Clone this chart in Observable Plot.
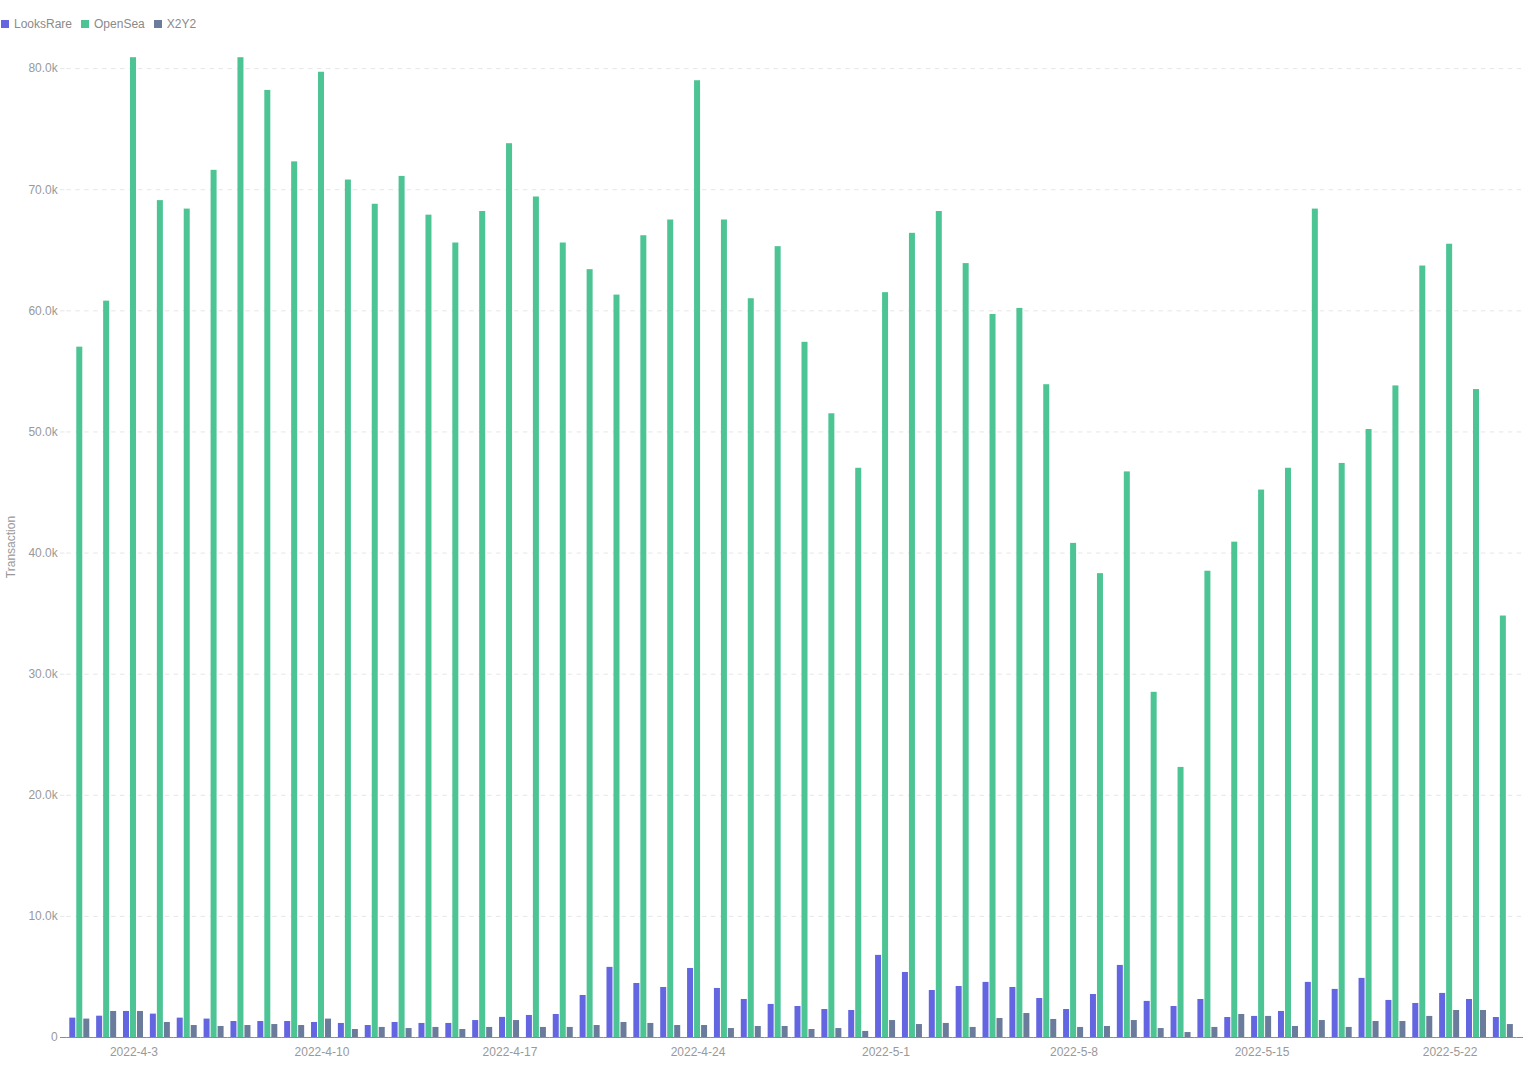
<!DOCTYPE html>
<html>
<head>
<meta charset="utf-8">
<script src="https://cdn.jsdelivr.net/npm/d3@7"></script>
<script src="https://cdn.jsdelivr.net/npm/@observablehq/plot@0.6"></script>
<style>
  html, body { margin: 0; padding: 0; background: #fff; }
  body { font-family: "Liberation Sans", Arial, sans-serif; width: 1536px; }
  #legend { height: 48px; display: flex; align-items: center; font-size: 12px; color: #8a8a8a; padding-left: 1px; }
  .item { display: flex; align-items: center; margin-right: 9px; }
  .sw { width: 8px; height: 8px; margin-right: 5px; }
  #chart svg { display: block; }
</style>
</head>
<body>
<div id="legend"></div>
<div id="chart"></div>
<script>
// ---- data ----
const dates = [
  "2022-4-1","2022-4-2","2022-4-3","2022-4-4","2022-4-5","2022-4-6","2022-4-7","2022-4-8","2022-4-9","2022-4-10",
  "2022-4-11","2022-4-12","2022-4-13","2022-4-14","2022-4-15","2022-4-16","2022-4-17","2022-4-18","2022-4-19","2022-4-20",
  "2022-4-21","2022-4-22","2022-4-23","2022-4-24","2022-4-25","2022-4-26","2022-4-27","2022-4-28","2022-4-29","2022-4-30",
  "2022-5-1","2022-5-2","2022-5-3","2022-5-4","2022-5-5","2022-5-6","2022-5-7","2022-5-8","2022-5-9","2022-5-10",
  "2022-5-11","2022-5-12","2022-5-13","2022-5-14","2022-5-15","2022-5-16","2022-5-17","2022-5-18","2022-5-19","2022-5-20",
  "2022-5-21","2022-5-22","2022-5-23","2022-5-24"
];
const looksRare = [
  1600,1760,2150,1930,1600,1520,1320,1320,1320,1240,
  1160,990,1240,1160,1160,1400,1660,1820,1900,3470,
  5790,4460,4130,5700,4050,3140,2730,2560,2310,2230,
  6780,5370,3880,4210,4550,4130,3220,2310,3550,5950,
  2980,2560,3140,1650,1740,2150,4550,3970,4880,3060,
  2810,3640,3140,1650
];
const openSea = [
  57000,60800,80900,69100,68400,71600,80900,78200,72300,79700,
  70800,68800,71100,67900,65600,68200,73800,69400,65600,63400,
  61300,66200,67500,79000,67500,61000,65300,57400,51500,47000,
  61500,66400,68200,63900,59700,60200,53900,40800,38300,46700,
  28500,22300,38500,40900,45200,47000,68400,47400,50200,53800,
  63700,65500,53500,34800
];
const x2y2 = [
  1520,2150,2150,1240,990,910,990,1070,990,1520,
  660,830,740,830,660,830,1400,830,830,990,
  1240,1160,990,990,740,910,910,660,740,500,
  1400,1070,1160,830,1570,1980,1490,830,910,1400,
  740,410,830,1900,1740,910,1400,830,1320,1320,
  1740,2230,2230,1070
];
const seriesNames = ["LooksRare", "OpenSea", "X2Y2"];
const seriesColors = ["#6366e0", "#4cc494", "#6a7b9c"];
const xTickLabels = ["2022-4-3","2022-4-10","2022-4-17","2022-4-24","2022-5-1","2022-5-8","2022-5-15","2022-5-22"];
const yTickValues = [0, 10000, 20000, 30000, 40000, 50000, 60000, 70000, 80000];

// ---- table ----
const seriesValues = [looksRare, openSea, x2y2];
const rows = dates.flatMap((d, i) =>
  seriesNames.map((s, k) => ({ date: d, market: s, value: seriesValues[k][i] }))
);

// ---- legend ----
const legend = document.getElementById("legend");
seriesNames.forEach((s, k) => {
  const it = document.createElement("div");
  it.className = "item";
  const sw = document.createElement("span");
  sw.className = "sw";
  sw.style.background = seriesColors[k];
  const tx = document.createElement("span");
  tx.textContent = s;
  it.appendChild(sw); it.appendChild(tx);
  legend.appendChild(it);
});

// ---- layout ----
const W = 1536, ML = 60, MR = 13, PO = 0.234;
const step = (W - ML - MR) / (dates.length + 2 * PO);  // facet bandwidth (paddingInner 0)
const ext = PO * step;                                  // outer padding width
const dash = step / 6;
const gridVals = yTickValues.filter(d => d > 0);
const gridStyle = { stroke: "#e6e6e6", strokeDasharray: `${dash},${dash}` };
const axisStyle = { stroke: "#8c8c8c" };
const first = dates[0], last = dates[dates.length - 1];

const fmt = d => d === 0 ? "0" : (d / 1000).toFixed(1) + "k";

const chart = Plot.plot({
  width: W,
  height: 1032,
  marginLeft: ML,
  marginRight: MR,
  marginTop: 8,
  marginBottom: 43,
  style: { fontFamily: "'Liberation Sans', Arial, sans-serif", fontSize: "12px", color: "#999", background: "#fff" },
  fx: { domain: dates, paddingInner: 0, paddingOuter: PO, label: null },
  x: { domain: seriesNames, paddingInner: 0.12, paddingOuter: 0.385, axis: null },
  y: { domain: [0, 81000] },
  color: { domain: seriesNames, range: seriesColors },
  marks: [
    Plot.gridY(gridVals, { ...gridStyle, strokeOpacity: 1 }),
    Plot.ruleY(gridVals, { ...gridStyle, fx: () => first, insetLeft: -ext, insetRight: step }),
    Plot.ruleY(gridVals, { ...gridStyle, fx: () => last, insetLeft: step, insetRight: -ext }),
    Plot.barY(rows, { fx: "date", x: "market", y: "value", fill: "market" }),
    Plot.ruleY([0], axisStyle),
    Plot.ruleY([0], { ...axisStyle, fx: () => first, insetLeft: -ext, insetRight: step }),
    Plot.ruleY([0], { ...axisStyle, fx: () => last, insetLeft: step, insetRight: -ext }),
    Plot.axisY({ ticks: yTickValues, tickFormat: fmt, tickSize: 0, tickPadding: 9, label: "Transaction", labelAnchor: "center", labelArrow: "none", labelOffset: 60 }),
    Plot.axisFx({ anchor: "bottom", ticks: xTickLabels, tickSize: 0, tickPadding: 10, label: null })
  ]
});
document.getElementById("chart").appendChild(chart);
</script>
</body>
</html>
